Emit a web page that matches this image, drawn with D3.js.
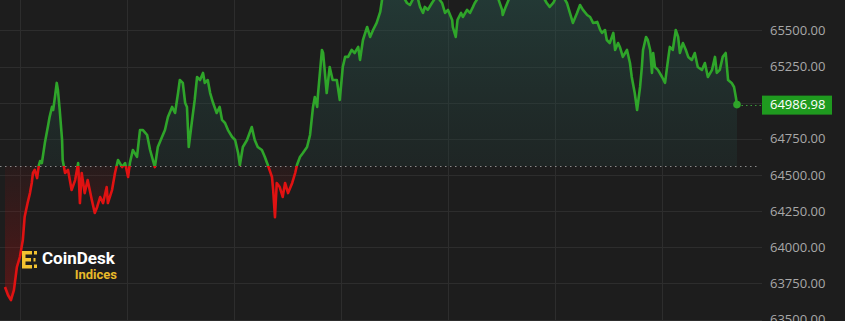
<!DOCTYPE html>
<html>
<head>
<meta charset="utf-8">
<script src="https://cdn.jsdelivr.net/npm/d3@7"></script>
<style>
  html, body { margin: 0; padding: 0; background: #1c1c1c; }
  svg { display: block; }
</style>
</head>
<body>
<div id="chart"></div>
<script>
// minutes from the first grid line
var minutes = [-25,-20,-15,-10,-5,0,5,8,13,17,20,22,25,29,32,34,37,42,47,50,54,56,59,62,64,67,71,72,76,81,87,93,98,101,104,109,114,121,126,130,135,140,146,148,155,160,165,172,177,182,185,190,197,202,207,214,219,227,232,239,244,249,256,261,266,269,274,278,281,284,289,294,298,303,308,311,316,320,325,331,336,340,345,350,357,362,367,370,375,382,390,395,400,407,412,417,424,426,429,432,437,442,446,451,458,463,466,471,476,483,488,493,496,500,501,508,510,516,521,526,533,538,543,547,552,558,563,569,572,577,584,589,594,600,606,609,616,626,636,644,651,656,663,669,673,678,681,686,693,701,710,715,720,727,728,733,736,742,745,752,757,762,765,774,784,794,804,811,812,817,824,834,844,854,865,875,881,886,891,897,902,910,915,920,925,930,937,942,947,954,959,964,971,976,979,984,987,992,998,1001,1006,1009,1014,1021,1026,1029,1034,1038,1043,1046,1048,1053,1056,1060,1063,1065,1068,1073,1080,1085,1090,1093,1098,1103,1107,1110,1115,1120,1124,1130,1135,1140,1147,1152,1157,1164,1169,1172,1177,1182,1187,1191,1197,1201,1204,1206];

// index price (USD)
var prices = [63725,63670,63635,63704,63863,63933,64050,64209,64306,64375,64445,64514,64535,64479,64569,64597,64583,64721,64832,64901,64971,64950,65040,65137,65088,64950,64742,64604,64514,64535,64396,64465,64583,64306,64514,64375,64465,64327,64237,64279,64348,64306,64417,64306,64396,64514,64604,64555,64583,64486,64583,64673,64625,64811,64811,64777,64673,64555,64694,64763,64811,64901,64971,64929,65067,65157,65137,64998,64971,64694,64860,65019,65178,65157,65206,65137,65157,65067,64998,64929,64971,64881,64860,64811,64763,64742,64652,64569,64694,64742,64832,64742,64694,64673,64625,64569,64486,64396,64209,64445,64417,64348,64445,64375,64445,64514,64569,64625,64652,64694,64777,64971,65040,64971,65040,65365,65344,65067,65247,65157,65157,65019,65247,65317,65317,65365,65344,65386,65296,65434,65524,65455,65503,65552,65628,65711,65766,65794,65780,65739,65690,65676,65732,65725,65663,65621,65663,65642,65690,65739,65690,65621,65642,65573,65524,65455,65573,65621,65593,65642,65621,65663,65690,65746,65780,65753,65725,65642,65607,65663,65732,65766,65794,65773,65753,65739,65725,65690,65663,65690,65732,65746,65725,65690,65621,65552,65621,65676,65642,65607,65593,65552,65559,65503,65483,65503,65434,65413,65483,65365,65413,65386,65317,65365,65275,65178,65067,64950,65109,65247,65365,65455,65434,65365,65206,65344,65247,65227,65178,65137,65296,65386,65365,65503,65455,65344,65413,65365,65317,65296,65344,65247,65227,65275,65178,65227,65317,65206,65227,65317,65344,65157,65137,65109,65040,64986.98];

var prevClose = 64562;
var lastPrice = 64986.98;
var priceTicks = [63500,63750,64000,64250,64500,64750,65000,65250,65500,65750];
// 65000.00 sits under the last price tag, so it is not written
var priceLabels = [63500,63750,64000,64250,64500,64750,65250,65500,65750];
var gridMinutes = [0,180,360,540,720,900,1080];

var width = 845, height = 321;
var plotRight = 762;

var data = minutes.map(function(m, i) { return {t: m, v: prices[i]}; });

var x = d3.scaleLinear().domain([-25, 1206]).range([5, 737]);
var y = d3.scaleLinear().domain([63500, 65750]).range([319.6, -5.7]);
var baseY = y(prevClose);

var svg = d3.select("#chart").append("svg")
  .attr("width", width)
  .attr("height", height);

svg.append("rect").attr("width", width).attr("height", height).attr("fill", "#1d1d1d");

var defs = svg.append("defs");

// clip above / below the previous close
defs.append("clipPath").attr("id", "clipUp")
  .append("rect").attr("x", 0).attr("y", 0).attr("width", plotRight).attr("height", baseY);
defs.append("clipPath").attr("id", "clipDown")
  .append("rect").attr("x", 0).attr("y", baseY).attr("width", plotRight).attr("height", height - baseY);

var gUp = defs.append("linearGradient").attr("id", "fillUp")
  .attr("gradientUnits", "userSpaceOnUse").attr("x1", 0).attr("x2", 0).attr("y1", 0).attr("y2", baseY);
gUp.append("stop").attr("offset", "0%").attr("stop-color", "#2a5a52").attr("stop-opacity", 0.45);
gUp.append("stop").attr("offset", "100%").attr("stop-color", "#23403c").attr("stop-opacity", 0.25);

var gDown = defs.append("linearGradient").attr("id", "fillDown")
  .attr("gradientUnits", "userSpaceOnUse").attr("x1", 0).attr("x2", 0).attr("y1", baseY).attr("y2", height);
gDown.append("stop").attr("offset", "0%").attr("stop-color", "#8a0e0e").attr("stop-opacity", 0.1);
gDown.append("stop").attr("offset", "100%").attr("stop-color", "#b01010").attr("stop-opacity", 0.45);

// grid
svg.append("g").selectAll("line.h")
  .data(priceTicks).enter().append("line")
  .attr("x1", 0).attr("x2", plotRight)
  .attr("y1", function(d) { return Math.round(y(d)) + 0.5; })
  .attr("y2", function(d) { return Math.round(y(d)) + 0.5; })
  .attr("stroke", "#2d2d2d").attr("stroke-width", 1);

svg.append("g").selectAll("line.v")
  .data(gridMinutes).enter().append("line")
  .attr("x1", function(d) { return Math.round(x(d)) + 0.5; })
  .attr("x2", function(d) { return Math.round(x(d)) + 0.5; })
  .attr("y1", 0).attr("y2", height)
  .attr("stroke", "#2d2d2d").attr("stroke-width", 1);

// areas between line and previous close
var area = d3.area()
  .x(function(d) { return x(d.t); })
  .y0(baseY)
  .y1(function(d) { return y(d.v); });

svg.append("path").datum(data).attr("d", area)
  .attr("fill", "url(#fillUp)").attr("clip-path", "url(#clipUp)");
svg.append("path").datum(data).attr("d", area)
  .attr("fill", "url(#fillDown)").attr("clip-path", "url(#clipDown)");

// previous close dotted line
svg.append("line")
  .attr("x1", 0).attr("x2", 757)
  .attr("y1", Math.round(baseY) + 0.5).attr("y2", Math.round(baseY) + 0.5)
  .attr("stroke", "#8a8a8a").attr("stroke-width", 1).attr("stroke-dasharray", "1.5,3.5");

// last price dotted line
svg.append("line")
  .attr("x1", x(1206)).attr("x2", 762)
  .attr("y1", Math.round(y(lastPrice)) + 0.5).attr("y2", Math.round(y(lastPrice)) + 0.5)
  .attr("stroke", "#3a9a3a").attr("stroke-width", 1).attr("stroke-dasharray", "1.5,3");

// price line, green above, red below
var line = d3.line()
  .x(function(d) { return x(d.t); })
  .y(function(d) { return y(d.v); });

svg.append("path").datum(data).attr("d", line)
  .attr("fill", "none").attr("stroke", "#2fa52a").attr("stroke-width", 2.6)
  .attr("stroke-linejoin", "round").attr("clip-path", "url(#clipUp)");
svg.append("path").datum(data).attr("d", line)
  .attr("fill", "none").attr("stroke", "#e01212").attr("stroke-width", 2.6)
  .attr("stroke-linejoin", "round").attr("clip-path", "url(#clipDown)");

svg.append("circle")
  .attr("cx", x(1206)).attr("cy", y(lastPrice)).attr("r", 3.8)
  .attr("fill", "#2fa52a");

// right axis labels
svg.append("g").selectAll("text")
  .data(priceLabels).enter().append("text")
  .attr("x", 770)
  .attr("y", function(d) { return y(d); })
  .attr("dy", "0.35em")
  .attr("fill", "#a8a8a8")
  .attr("font-family", "'Open Sans', 'DejaVu Sans', sans-serif")
  .attr("font-size", 13)
  .text(function(d) { return d3.format(".2f")(d); });

// last price tag
var tagY = y(lastPrice);
svg.append("rect")
  .attr("x", 762).attr("y", tagY - 9).attr("width", 70).attr("height", 19)
  .attr("fill", "#1f9a1f");
svg.append("text")
  .attr("x", 770).attr("y", tagY).attr("dy", "0.36em")
  .attr("fill", "#ffffff")
  .attr("font-family", "'Open Sans', 'DejaVu Sans', sans-serif")
  .attr("font-size", 13)
  .text(d3.format(".2f")(lastPrice));

// CoinDesk Indices logo
var logo = svg.append("g");
var yellow = "#f2c230";
logo.append("path")
  .attr("d", "M22,251h10v3.5h-6.5v3.5h5.5v3.5h-5.5v3.5h6.5v3.5h-10z")
  .attr("fill", yellow);
logo.append("rect").attr("x", 34).attr("y", 251).attr("width", 3).attr("height", 3.5).attr("fill", yellow);
logo.append("rect").attr("x", 34).attr("y", 264.5).attr("width", 3).attr("height", 3.5).attr("fill", yellow);
logo.append("rect").attr("x", 33.5).attr("y", 258).attr("width", 2).attr("height", 3.5).attr("fill", yellow);
logo.append("text")
  .attr("x", 42).attr("y", 264)
  .attr("fill", "#ffffff")
  .attr("font-family", "Roboto, 'Noto Sans', sans-serif")
  .attr("font-weight", "bold")
  .attr("font-size", 17)
  .text("CoinDesk");
logo.append("text")
  .attr("x", 117).attr("y", 279)
  .attr("text-anchor", "end")
  .attr("fill", "#e8b92a")
  .attr("font-family", "Roboto, 'Noto Sans', sans-serif")
  .attr("font-weight", "bold")
  .attr("font-size", 13)
  .text("Indices");
</script>
</body>
</html>
